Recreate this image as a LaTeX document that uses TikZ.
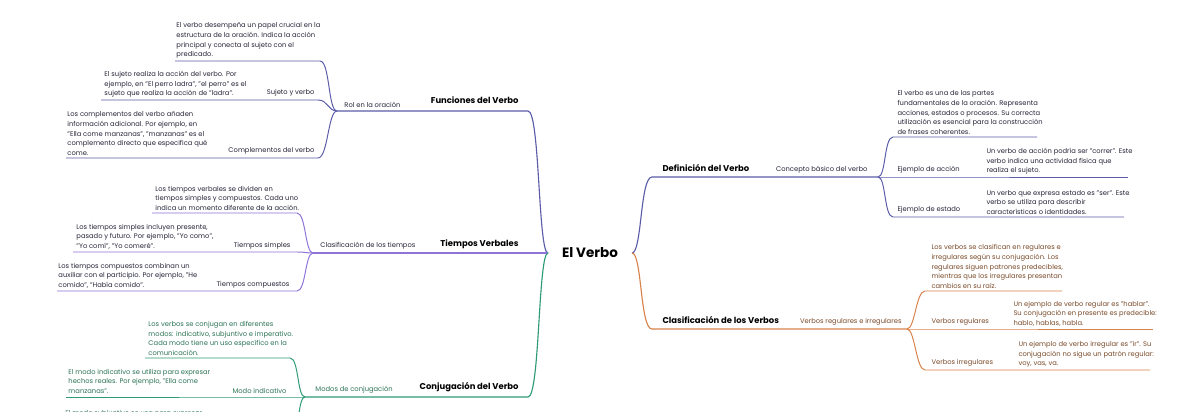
\documentclass[tikz,border=0pt]{standalone}
\usepackage{fontspec}
\setmainfont{Poppins}
\definecolor{azul}{HTML}{5B5DA8}
\definecolor{lila}{HTML}{8F73D9}
\definecolor{verde}{HTML}{2E9B74}
\definecolor{naranja}{HTML}{D9824A}
\definecolor{tazul}{HTML}{26263A}
\definecolor{tverde}{HTML}{2B7356}
\definecolor{tnaranja}{HTML}{7A4B2A}

\begin{document}
\begin{tikzpicture}[x=0.025cm, y=-0.025cm, line width=0.7pt,
  txt/.style={inner sep=0pt, font=\fontsize{4.8}{6.9}\selectfont, align=left},
  titulo/.style={inner sep=0pt, font=\fontsize{6}{7.5}\selectfont\bfseries, text=black},
  rama/.style={line width=0.8pt}]
  \fill[white] (0,0) rectangle (1200,412);
  \useasboundingbox (0,0) rectangle (1200,412);

  % centro
  \node[inner sep=0pt, font=\fontsize{9.6}{11}\selectfont\bfseries] (raiz) at (590,253) {El Verbo};
  \coordinate (izq) at (548,253);
  \coordinate (der) at (632,253);

  % funciones del verbo
  \begin{scope}[color=azul, every node/.append style={text=tazul}]
    \coordinate (fun-e) at (528,111);
    \coordinate (rol) at (337,111);
    \draw[rama] (izq) .. controls +(-10,0) and +(12,0) .. (fun-e) -- (rol);
    \node[titulo, anchor=south east] (fun) at (519,104) {Funciones del Verbo};
    \node[txt, anchor=south west] (rol-t) at (344,108) {Rol en la oración};
    \coordinate (rd-a) at (175,61);  \coordinate (rd-b) at (320,61);
    \coordinate (suj-a) at (101,100); \coordinate (suj-b) at (318,100);
    \coordinate (com-a) at (66,158);  \coordinate (com-b) at (318,158);
    \foreach \h in {rd,suj,com}
      \draw (rol) .. controls +(-9,0) and +(10,0) .. (\h-b) -- (\h-a);
    \node[txt, anchor=south west] (rd-t) at (176,59) {El verbo desempeña un papel crucial en la\\estructura de la oración. Indica la acción\\principal y conecta al sujeto con el\\predicado.};
    \node[txt, anchor=south east] (suj) at (315,97) {Sujeto y verbo};
    \node[txt, anchor=south west] (suj-t) at (104,98) {El sujeto realiza la acción del verbo. Por\\ejemplo, en "El perro ladra", "el perro" es el\\sujeto que realiza la acción de "ladra".};
    \node[txt, anchor=south east] (com) at (315,155) {Complementos del verbo};
    \node[txt, anchor=south west] (com-t) at (67,156) {Los complementos del verbo añaden\\información adicional. Por ejemplo, en\\"Ella come manzanas", "manzanas" es el\\complemento directo que especifica qué\\come.};
  \end{scope}

  % tiempos verbales
  \begin{scope}[color=lila, every node/.append style={text=tazul}]
    \coordinate (cla) at (313,253);
    \draw[rama] (izq) -- (cla);
    \node[titulo, anchor=south east] (tie) at (519,249) {Tiempos Verbales};
    \node[txt, anchor=south west] (cla-t) at (320,250) {Clasificación de los tiempos};
    \coordinate (td-a) at (152,213); \coordinate (td-b) at (297,213);
    \coordinate (ts-a) at (73,252);  \coordinate (ts-b) at (297,252);
    \coordinate (tc-a) at (57,291);  \coordinate (tc-b) at (297,291);
    \foreach \h in {td,ts,tc}
      \draw (cla) .. controls +(-8,0) and +(9,0) .. (\h-b) -- (\h-a);
    \node[txt, anchor=south west] (td-t) at (155,211) {Los tiempos verbales se dividen en\\tiempos simples y compuestos. Cada uno\\indica un momento diferente de la acción.};
    \node[txt, anchor=south east] (ts) at (291,250) {Tiempos simples};
    \node[txt, anchor=south west] (ts-t) at (76,250) {Los tiempos simples incluyen presente,\\pasado y futuro. Por ejemplo, "Yo como",\\"Yo comí", "Yo comeré".};
    \node[txt, anchor=south east] (tc) at (290,289) {Tiempos compuestos};
    \node[txt, anchor=south west] (tc-t) at (58,289) {Los tiempos compuestos combinan un\\auxiliar con el participio. Por ejemplo, "He\\comido", "Había comido".};
  \end{scope}

  % conjugacion del verbo
  \begin{scope}[color=verde, every node/.append style={text=tverde}]
    \coordinate (con-e) at (528,397);
    \coordinate (mod) at (305,397);
    \draw[rama] (izq) .. controls +(-10,0) and +(12,0) .. (con-e) -- (mod);
    \node[titulo, anchor=south east] (conj) at (519,392) {Conjugación del Verbo};
    \node[txt, anchor=south west] (mod-t) at (315,394) {Modos de conjugación};
    \coordinate (md-a) at (145,358); \coordinate (md-b) at (290,358);
    \coordinate (mi-a) at (66,397);  \coordinate (mi-b) at (290,397);
    \coordinate (ms-a) at (60,445);  \coordinate (ms-b) at (290,445);
    \foreach \h in {md,mi,ms}
      \draw (mod) .. controls +(-8,0) and +(9,0) .. (\h-b) -- (\h-a);
    \node[txt, anchor=south west] (md-t) at (148,356) {Los verbos se conjugan en diferentes\\modos: indicativo, subjuntivo e imperativo.\\Cada modo tiene un uso específico en la\\comunicación.};
    \node[txt, anchor=south east] (mi) at (287,394) {Modo indicativo};
    \node[txt, anchor=south west] (mi-t) at (68,394) {El modo indicativo se utiliza para expresar\\hechos reales. Por ejemplo, "Ella come\\manzanas".};
    \node[txt, anchor=north west] (ms-t) at (65,409.5) {El modo subjuntivo se usa para expresar};
  \end{scope}

  % definicion del verbo
  \begin{scope}[color=azul, every node/.append style={text=tazul}]
    \coordinate (def-s) at (652,177);
    \coordinate (con) at (878,177);
    \draw[rama] (der) .. controls +(10,0) and +(-12,0) .. (def-s) -- (con);
    \node[titulo, anchor=south west] (def) at (662,172) {Definición del Verbo};
    \node[txt, anchor=south east] (con-t) at (868,174) {Concepto básico del verbo};
    \coordinate (dd-a) at (893,137); \coordinate (dd-b) at (1037,137);
    \coordinate (ea-a) at (893,177); \coordinate (ea-b) at (1128,177);
    \coordinate (ee-a) at (893,217); \coordinate (ee-b) at (1124,217);
    \foreach \h in {dd,ea,ee}
      \draw (con) .. controls +(8,0) and +(-9,0) .. (\h-a) -- (\h-b);
    \node[txt, anchor=south west] (dd-t) at (897,135) {El verbo es una de las partes\\fundamentales de la oración. Representa\\acciones, estados o procesos. Su correcta\\utilización es esencial para la construcción\\de frases coherentes.};
    \node[txt, anchor=south west] (ea) at (897,174) {Ejemplo de acción};
    \node[txt, anchor=south west] (ea-t) at (986,175) {Un verbo de acción podría ser "correr". Este\\verbo indica una actividad física que\\realiza el sujeto.};
    \node[txt, anchor=south west] (ee) at (897,214) {Ejemplo de estado};
    \node[txt, anchor=south west] (ee-t) at (986,215) {Un verbo que expresa estado es "ser". Este\\verbo se utiliza para describir\\características o identidades.};
  \end{scope}

  % clasificacion de los verbos
  \begin{scope}[color=naranja, every node/.append style={text=tnaranja}]
    \coordinate (cv-s) at (652,329);
    \coordinate (vri) at (907,329);
    \draw[rama] (der) .. controls +(10,0) and +(-12,0) .. (cv-s) -- (vri);
    \node[titulo, anchor=south west] (cv) at (662,324) {Clasificación de los Verbos};
    \node[txt, anchor=south east] (vri-t) at (902,326) {Verbos regulares e irregulares};
    \coordinate (vd-a) at (925,291); \coordinate (vd-b) at (1062,291);
    \coordinate (vr-a) at (925,329); \coordinate (vr-b) at (1153,329);
    \coordinate (vi-a) at (925,370); \coordinate (vi-b) at (1150,370);
    \foreach \h in {vd,vr,vi}
      \draw (vri) .. controls +(8,0) and +(-9,0) .. (\h-a) -- (\h-b);
    \node[txt, anchor=south west] (vd-t) at (931,289) {Los verbos se clasifican en regulares e\\irregulares según su conjugación. Los\\regulares siguen patrones predecibles,\\mientras que los irregulares presentan\\cambios en su raíz.};
    \node[txt, anchor=south west] (vr) at (931,326) {Verbos regulares};
    \node[txt, anchor=south west] (vr-t) at (1013,327) {Un ejemplo de verbo regular es "hablar".\\Su conjugación en presente es predecible:\\hablo, hablas, habla.};
    \node[txt, anchor=south west] (vi) at (931,367) {Verbos irregulares};
    \node[txt, anchor=south west] (vi-t) at (1018,368) {Un ejemplo de verbo irregular es "ir". Su\\conjugación no sigue un patrón regular:\\voy, vas, va.};
  \end{scope}
\end{tikzpicture}
\end{document}
